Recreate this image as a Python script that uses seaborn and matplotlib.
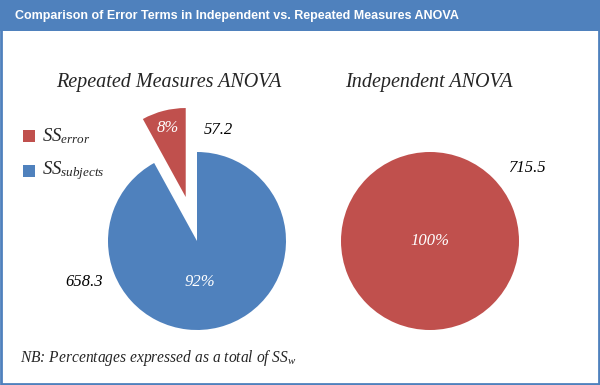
import matplotlib
matplotlib.use("Agg")
import matplotlib.pyplot as plt
import seaborn as sns
from matplotlib.patches import Rectangle

# ---- data ----
rm_labels = ["SS_error", "SS_subjects"]
rm_values = [57.2, 658.3]
rm_pct = ["8%", "92%"]
ind_values = [715.5]
ind_pct = ["100%"]
panel_titles = ["Repeated Measures ANOVA", "Independent ANOVA"]
header = "Comparison of Error Terms in Independent vs. Repeated Measures ANOVA"
footnote = r"NB: Percentages expressed as a total of $SS_w$"

sns.set_theme(style="white")
plt.rcParams["font.family"] = ["Liberation Serif", "DejaVu Serif"]
plt.rcParams["mathtext.fontset"] = "custom"
plt.rcParams["mathtext.rm"] = "Liberation Serif:italic"
plt.rcParams["mathtext.it"] = "Liberation Serif:italic"
plt.rcParams["mathtext.default"] = "it"

red, blue = "#C0504D", "#4F81BD"
colors_rm = [red, blue]

W, H = 600, 385
fig = plt.figure(figsize=(6, 3.85), dpi=100)

def fx(px):
    return px / W

def fy(py):
    return 1 - py / H

# header band & border
fig.patches.append(Rectangle((0, fy(31)), 1, 31 / H, transform=fig.transFigure,
                             facecolor=blue, edgecolor="none", zorder=0))
fig.patches.append(Rectangle((0.001, 0.002), 0.997, 0.996, transform=fig.transFigure,
                             facecolor="none", edgecolor=blue, lw=2, zorder=5))
fig.text(fx(15), fy(16), header, color="white", fontsize=9.0, fontweight="bold",
         family=["Liberation Sans", "DejaVu Sans"], va="center", ha="left")

R = 89  # pie radius in px
L = 1.6  # axis half-extent in radius units

def make_ax(cx, cy):
    half = R * L
    ax = fig.add_axes([fx(cx - half), fy(cy + half), 2 * half / W, 2 * half / H])
    ax.set_xlim(-L, L)
    ax.set_ylim(-L, L)
    ax.set_aspect("equal")
    ax.axis("off")
    return ax

# left pie
ax1 = make_ax(197, 241)
ax1.pie(rm_values, colors=colors_rm, startangle=90, counterclock=True,
        explode=[0.51, 0], radius=1, wedgeprops=dict(linewidth=0),
        frame=False)
ax1.set_xlim(-L, L); ax1.set_ylim(-L, L)
ax1.text(-0.33, 1.27, rm_pct[0], color="white", fontsize=12, style="italic",
         ha="center", va="center")
ax1.text(0.03, -0.46, rm_pct[1], color="white", fontsize=12, style="italic",
         ha="center", va="center")
ax1.text(0.24, 1.25, f"{rm_values[0]:.1f}", color="black", fontsize=12,
         style="italic", ha="center", va="center")
ax1.text(-1.27, -0.46, f"{rm_values[1]:.1f}", color="black", fontsize=12,
         style="italic", ha="center", va="center")

# right pie
ax2 = make_ax(430, 241)
ax2.pie(ind_values, colors=[red], startangle=90, radius=1,
        wedgeprops=dict(linewidth=0), frame=False)
ax2.set_xlim(-L, L); ax2.set_ylim(-L, L)
ax2.text(0, 0, ind_pct[0], color="white", fontsize=12, style="italic",
         ha="center", va="center")
ax2.text(1.09, 0.82, f"{ind_values[0]:.1f}", color="black", fontsize=12,
         style="italic", ha="center", va="center")

# panel titles
fig.text(fx(169), fy(82), panel_titles[0], fontsize=14.5, style="italic",
         ha="center", va="center")
fig.text(fx(429), fy(82), panel_titles[1], fontsize=14.5, style="italic",
         ha="center", va="center")

# legend
leg_y = [136, 171]
leg_text = [r"$SS_{error}$", r"$SS_{subjects}$"]
for yy, c, t in zip(leg_y, colors_rm, leg_text):
    fig.patches.append(Rectangle((fx(23), fy(yy + 6)), 12 / W, 12 / H,
                                 transform=fig.transFigure, facecolor=c,
                                 edgecolor="none"))
    fig.text(fx(42), fy(yy), t, fontsize=13.5, ha="left", va="center")

fig.text(fx(20), fy(358), footnote, fontsize=11.2, style="italic",
         ha="left", va="center")

fig.savefig("out.png", dpi=100)
